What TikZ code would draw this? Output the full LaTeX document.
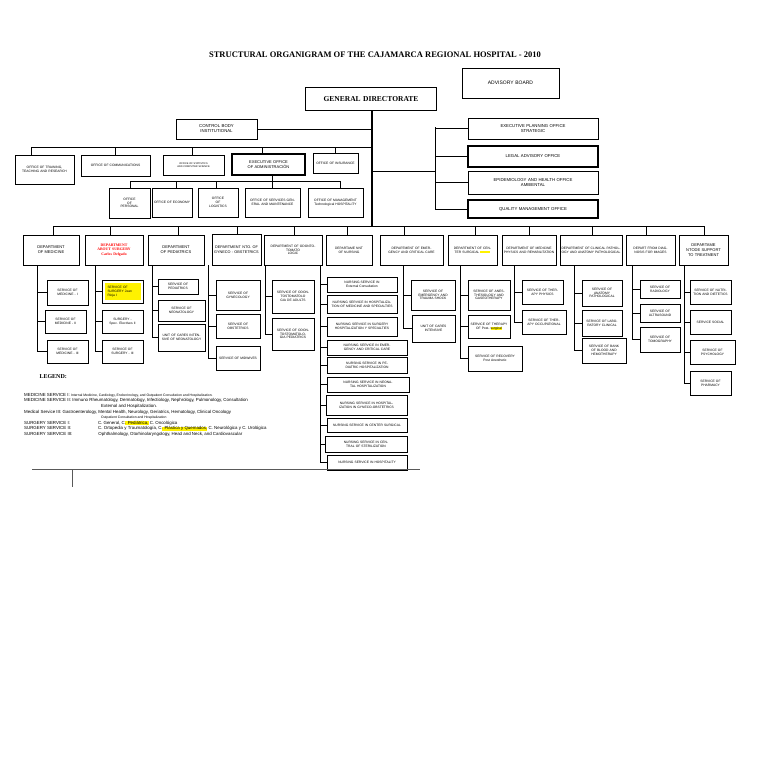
\documentclass[tikz,border=0pt]{standalone}
\usepackage{fontspec}
\setmainfont{Liberation Sans}
\newfontfamily\serf{Liberation Serif}
\begin{document}
\begin{tikzpicture}[x=1pt,y=-1pt,
 bx/.style={draw,line width=0.7pt,align=center,inner sep=0.5pt,font=\fontsize{3.3}{3.8}\selectfont},
 thk/.style={line width=1.4pt},
 ln/.style={draw,line width=0.8pt},
 hl/.style={fill=yellow}]
\useasboundingbox[fill=white] (0,0) rectangle (768,761);
\newcommand\bx[7][]{\node[bx,#1,minimum width={(#5-#3)*1pt},minimum height={(#6-#4)*1pt},text width={(#5-#3-3)*1pt}] (#2) at ({(#3+#5)/2},{(#4+#6)/2}) {#7};}
\newcommand\br[2]{\draw[ln] (#1,0 |- #2.west) -- (#2.west);}
\node[font=\serf\bfseries\fontsize{8.5}{10}\selectfont] (title) at (375,55) {STRUCTURAL ORGANIGRAM OF THE CAJAMARCA REGIONAL HOSPITAL - 2010};
\bx[font=\fontsize{5}{6}\selectfont]{adv}{462}{68}{559}{98}{ADVISORY BOARD}
\bx[line width=2.4pt,font=\serf\bfseries\fontsize{7.5}{9}\selectfont]{gd}{306}{88}{436}{110}{GENERAL DIRECTORATE}
\draw[white,line width=0.5pt] (gd.south west) ++(1.6,-1.6) rectangle ([xshift=-1.6pt,yshift=-1.6pt]gd.north east);
\coordinate (sp) at (372,226);
\draw[ln,line width=1.2pt] (gd.south -| sp) -- (sp);
\bx[font=\fontsize{4.3}{5}\selectfont]{cb}{176}{119}{257}{139}{CONTROL BODY\\ INSTITUTIONAL}
\draw[ln] (cb.east) -- (cb.east -| sp);
% first row
\bx{tr}{15}{155}{74}{184}{OFFICE OF TRAINING, TEACHING AND RESEARCH}
\bx{co}{81}{155}{150}{176}{OFFICE OF COMMUNICATIONS}
\bx[font=\fontsize{2.5}{3}\selectfont]{st}{163}{155}{224}{175}{OFFICE OF STATISTICS AND COMPUTER SCIENCE}
\bx[thk,font=\fontsize{4}{4.8}\selectfont]{ea}{232}{154}{305}{175}{EXECUTIVE OFFICE OF ADMINISTRACI\'ON}
\bx{in}{313}{153}{358}{173}{OFFICE OF INSURANCE}
\draw[ln] (31,147) -- (372,147);
\foreach \n/\xx in {tr/31,co/115,st/192,ea/262,in/335}{\draw[ln] (\xx,147) -- (\xx,0 |- \n.north);}
% admin subrow
\bx{pe}{109}{188}{150}{218}{OFFICE\\ OF\\ PERSONAL}
\bx{ec}{152}{188}{192}{217}{OFFICE OF ECONOMY}
\bx{lo}{198}{188}{238}{217}{OFFICE\\ OF\\ LOGISTICS}
\bx{se}{245}{188}{300}{217}{OFFICE OF SERVICES GENERAL AND MAINTENANCE}
\bx{ma}{308}{188}{363}{217}{OFFICE OF MANAGEMENT Technological HOSPITALITY}
\draw[ln] (272,0 |- ea.south) -- (272,181);
\draw[ln] (130,181) -- (340,181);
\foreach \n/\xx in {pe/130,ec/176,lo/216,se/272,ma/340}{\draw[ln] (\xx,181) -- (\xx,0 |- \n.north);}
% right offices
\bx[font=\fontsize{4.3}{5}\selectfont]{ep}{468}{118}{598}{139}{EXECUTIVE PLANNING OFFICE\\ STRATEGIC}
\bx[thk,font=\fontsize{4.3}{5}\selectfont]{la}{468}{146}{598}{167}{LEGAL ADVISORY OFFICE}
\bx[font=\fontsize{4.3}{5}\selectfont]{epi}{468}{171}{598}{194}{EPIDEMIOLOGY AND HEALTH OFFICE\\ AMBIENTAL}
\bx[thk,font=\fontsize{4.3}{5}\selectfont]{qm}{468}{200}{598}{218}{QUALITY MANAGEMENT OFFICE}
\draw[ln] (372,171) -- (435,171);
\draw[ln] (435,127) -- (435,209);
\foreach \n in {ep,la,epi,qm}{\br{435}{\n}}
% departments
\draw[ln] (53,226) -- (704,226);
\bx[font=\fontsize{4}{4.8}\selectfont]{dm}{23}{235}{79}{265}{DEPARTMENT\\ OF MEDICINE}
\bx[font=\serf\bfseries\fontsize{3.8}{4.5}\selectfont,text=red]{ds}{85}{235}{143}{265}{DEPARTMENT\\ ABOUT SURGERY\\ Carlos Delgado}
\bx[font=\fontsize{4}{4.8}\selectfont]{dp}{148}{235}{204}{265}{DEPARTMENT\\ OF PEDIATRICS}
\bx[font=\fontsize{3.8}{4.5}\selectfont]{dg}{212}{234}{261}{265}{DEPARTMENT NTO. OF GYNECO - OBSTETRICS}
\bx{do}{264}{235}{322}{265}{DEPARTMENT OF ODONTO-\\ TOMATO\\ LOGIC}
\bx{dn}{326}{235}{372}{265}{DEPARTAME NNT OF NURSING}
\bx{de}{380}{235}{443}{265}{DEPARTMENT OF EMERGENCY AND CRITICAL CARE}
\bx{dc}{448}{235}{497}{265}{DEPARTMENT OF CENTER SURGICAL {\fboxsep=0pt\colorbox{yellow}{\phantom{xxxxxx}}}}
\bx{dr}{502}{235}{556}{265}{DEPARTMENT OF MEDICINE PHYSICS AND REHABILITATION}
\bx{dl}{560}{235}{622}{265}{DEPARTMENT OF CLINICAL PATHOLOGY AND ANATOMY PATHOLOGICAL}
\bx{dd}{626}{235}{675}{265}{DEPART FROM DIAGNOSIS FOR IMAGES}
\bx[font=\fontsize{4}{4.8}\selectfont]{dt}{679}{235}{728}{265}{DEPARTAME NTODE SUPPORT TO TREATMENT}
\foreach \n/\xx in {dm/53,ds/110,dp/178,dg/237,do/294,dn/347,de/404,dc/475,dr/529,dl/592,dd/646,dt/704}{\draw[ln] (\xx,226) -- (\xx,0 |- \n.north);}
% medicine
\bx{m1}{47}{280}{88}{305}{SERVICE OF MEDICINE - I}
\bx{m2}{45}{310}{86}{333}{SERVICE OF MEDICINE - II}
\bx{m3}{47}{340}{88}{363}{SERVICE OF MEDICINE - III}
\draw[ln] (37,265) -- (37,0 |- m3.west); \foreach \n in {m1,m2,m3}{\br{37}{\n}}
% surgery
\bx{s1}{102}{280}{143}{303}{\colorbox{yellow}{\parbox{30pt}{SERVICE OF SURGERY Jean Rioja I}}}
\bx{s2}{102}{310}{143}{333}{SURGERY - Spec. Electives II}
\bx{s3}{102}{340}{143}{363}{SERVICE OF SURGERY - III}
\draw[ln] (95,265) -- (95,0 |- s3.west); \foreach \n in {s1,s2,s3}{\br{95}{\n}}
% pediatrics
\bx{p1}{158}{279}{198}{294}{SERVICE OF PEDIATRICS}
\bx{p2}{158}{300}{205}{321}{SERVICE OF NEONATOLOGY}
\bx{p3}{158}{324}{205}{351}{UNIT OF CARES INTENSIVE OF NEONATOLOGY}
\draw[ln] (152,265) -- (152,0 |- p3.west); \foreach \n in {p1,p2,p3}{\br{152}{\n}}
% gyneco
\bx{g1}{216}{280}{260}{310}{SERVICE OF GYNECOLOGY}
\bx{g2}{216}{314}{260}{338}{SERVICE OF OBSTETRICS}
\bx{g3}{216}{346}{260}{370}{SERVICE OF MIDWIVES}
\draw[ln] (208,265) -- (208,0 |- g3.west); \foreach \n in {g1,g2,g3}{\br{208}{\n}}
% odonto
\bx{o1}{272}{280}{314}{313}{SERVICE OF ODONTOSTOMATOLO GIA DE ADULTS}
\bx{o2}{272}{318}{314}{350}{SERVICE OF ODONTOSTOMATOLOGIA PEDIATRICS}
\draw[ln] (265,265) -- (265,0 |- o2.west); \foreach \n in {o1,o2}{\br{265}{\n}}
% nursing
\bx{n1}{327}{277}{397}{292}{NURSING SERVICE IN External Consultation}
\bx{n2}{327}{295}{397}{313}{NURSING SERVICE IN HOSPITALIZATION OF MEDICINE AND SPECIALTIES}
\bx{n3}{327}{317}{397}{336}{NURSING SERVICE IN SURGERY HOSPITALIZATION Y SPECIALTIES}
\bx{n4}{327}{340}{407}{355}{NURSING SERVICE IN EMERGENCY AND CRITICAL CARE}
\bx{n5}{327}{357}{407}{373}{NURSING SERVICE IN PEDIATRIC HOSPITALIZATION}
\bx{n6}{327}{377}{409}{392}{NURSING SERVICE IN NEONATAL HOSPITALIZATION}
\bx{n7}{326}{395}{407}{415}{NURSING SERVICE IN HOSPITALIZATION IN GYNECO-OBSTETRICS}
\bx{n8}{327}{418}{407}{432}{NURSING SERVICE IN CENTER SURGICAL}
\bx{n9}{325}{436}{407}{452}{NURSING SERVICE IN CENTRAL OF STERILIZATION}
\bx{n10}{327}{455}{407}{470}{NURSING SERVICE IN HOSPITALITY}
\draw[ln] (320,265) -- (320,0 |- n10.west); \foreach \n in {n1,n2,n3,n4,n5,n6,n7,n8,n9,n10}{\br{320}{\n}}
% emergency
\bx{e1}{411}{280}{455}{310}{SERVICE OF EMERGENCY AND TRAUMA SHOCK}
\bx{e2}{412}{315}{455}{342}{UNIT OF CARES INTENSIVE}
\draw[ln] (403,265) -- (403,0 |- e2.west); \foreach \n in {e1,e2}{\br{403}{\n}}
% center surgical
\bx{c1}{468}{280}{510}{310}{SERVICE OF ANESTHESIOLOGY AND GASEOTHERAPY}
\bx{c2}{468}{315}{510}{338}{SERVICE OF THERAPY OF Post- {\fboxsep=0pt\colorbox{yellow}{surgical}}}
\bx{c3}{468}{346}{522}{371}{SERVICE OF RECOVERY\\ Post Anesthetic}
\draw[ln] (460,265) -- (460,0 |- c3.west); \foreach \n in {c1,c2,c3}{\br{460}{\n}}
% physical medicine
\bx{r1}{522}{280}{563}{304}{SERVICE OF THERAPY PHYSICS}
\bx{r2}{522}{310}{566}{334}{SERVICE OF THERAPY OCCUPATIONAL}
\draw[ln] (514,265) -- (514,0 |- r2.west); \foreach \n in {r1,r2}{\br{514}{\n}}
% clinical pathology
\bx{l1}{582}{280}{622}{306}{SERVICE OF ANATOMY PATHOLOGICAL}
\bx{l2}{582}{310}{622}{336}{SERVICE OF LABORATORY CLINICAL}
\bx{l3}{582}{338}{626}{363}{SERVICE OF BANK OF BLOOD AND HEMOTHERAPY}
\draw[ln] (574,265) -- (574,0 |- l3.west); \foreach \n in {l1,l2,l3}{\br{574}{\n}}
% diagnostics
\bx{i1}{640}{280}{680}{298}{SERVICE OF RADIOLOGY}
\bx{i2}{640}{304}{680}{322}{SERVICE OF ULTRASOUND}
\bx{i3}{640}{327}{680}{352}{SERVICE OF TOMOGRAPHY}
\draw[ln] (632,265) -- (632,0 |- i3.west); \foreach \n in {i1,i2,i3}{\br{632}{\n}}
% support
\bx{t1}{690}{280}{731}{304}{SERVICE OF NUTRITION AND DIETETICS}
\bx{t2}{690}{310}{731}{334}{SERVICE SOCIAL}
\bx{t3}{690}{340}{735}{364}{SERVICE OF PSYCHOLOGY}
\bx{t4}{690}{371}{731}{395}{SERVICE OF PHARMACY}
\draw[ln] (684,265) -- (684,0 |- t4.west); \foreach \n in {t1,t2,t3,t4}{\br{684}{\n}}
% legend
\node[font=\serf\bfseries\fontsize{6}{7}\selectfont,anchor=west] (lg) at (36,377) {LEGEND:};
\node[anchor=north west,inner sep=0pt,font=\fontsize{4.4}{5.6}\selectfont,align=left] (lt) at (24,393) {%
MEDICINE SERVICE I: {\fontsize{3.4}{4}\selectfont Internal Medicine, Cardiology, Endocrinology, and Outpatient Consultation and Hospitalization.}\\
MEDICINE SERVICE II: Immuno Rheumatology, Dermatology, Infectiology, Nephrology, Pulmonology, Consultation\\
\hspace*{77pt}External and Hospitalization.\\
Medical Service III: Gastroenterology, Mental Health, Neurology, Geriatrics, Hematology, Clinical Oncology\\
\hspace*{77pt}{\fontsize{3.4}{4}\selectfont Outpatient Consultation and Hospitalization}\\
SURGERY SERVICE I:\hspace*{28pt}C. General, C{\fboxsep=0pt\colorbox{yellow}{. Pedi\'atrica,}} C. Oncol\'ogica\\
SURGERY SERVICE II:\hspace*{27pt}C. Ortopedia y Traumatolog\'ia, C{\fboxsep=0pt\colorbox{yellow}{. Pl\'astica y Quemados,}} C. Neurol\'ogica y C. Urol\'ogica\\
SURGERY SERVICE III:\hspace*{26pt}Ophthalmology, Otorhinolaryngology, Head and Neck, and Cardiovascular};
\draw[line width=0.8pt,gray!70!black] (32,469) -- (420,469);
\draw[line width=0.8pt,gray!70!black] (72,469) -- (72,487);
\end{tikzpicture}
\end{document}
